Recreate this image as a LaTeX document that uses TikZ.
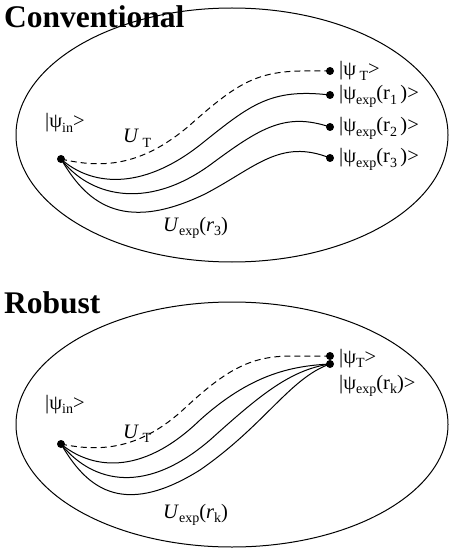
\documentclass[tikz,border=0pt]{standalone}
\usepackage{fontspec}
\setmainfont{Liberation Serif}
\newcommand\lsb[1]{\raisebox{-0.45ex}{\fontsize{14}{14}\selectfont #1}}
\begin{document}
\begin{tikzpicture}[x=1pt,y=-1pt,
  lbl/.style={anchor=base west,inner sep=0pt,font=\fontsize{20.5}{20.5}\selectfont},
  ttl/.style={anchor=base west,inner sep=0pt,font=\fontsize{31.5}{31.5}\selectfont\bfseries},
  pt/.style={circle,fill=black,inner sep=0pt,minimum size=8pt},
  curve/.style={line width=1pt},
  dcurve/.style={line width=1pt,dash pattern=on 6pt off 4pt}]
\useasboundingbox (0,0) rectangle (453,556);
% ---------- Conventional ----------
\node[ttl] (t1) at (4,28) {Conventional};
\draw[line width=1pt] (232,135) ellipse [x radius=216, y radius=127];
\node[pt] (a) at (61,159) {};
\node[pt] (bT) at (330,71) {};
\node[pt] (b1) at (330,95) {};
\node[pt] (b2) at (330,127) {};
\node[pt] (b3) at (330,158) {};
\draw[dcurve] (a.center) .. controls (100,168) and (140,168) .. (190,125)
  .. controls (235,85) and (255,72) .. (300,71) -- (bT.center);
\draw[curve] (a.center) .. controls (90,185) and (140,192) .. (200,145)
  .. controls (250,105) and (270,88) .. (b1.center);
\draw[curve] (a.center) .. controls (88,195) and (145,212) .. (210,165)
  .. controls (260,128) and (285,112) .. (b2.center);
\draw[curve] (a.center) .. controls (85,200) and (120,235) .. (205,194)
  .. controls (255,168) and (280,138) .. (b3.center);
\node[lbl] (lin1) at (45,128) {|ψ\lsb{in}>};
\node[lbl] (lT1) at (339,76) {|ψ\,\lsb{T}>};
\node[lbl] (l11) at (339,100) {|ψ\lsb{exp}(r\lsb{1}\,)>};
\node[lbl] (l21) at (339,132) {|ψ\lsb{exp}(r\lsb{2}\,)>};
\node[lbl] (l31) at (339,163) {|ψ\lsb{exp}(r\lsb{3}\,)>};
\node[lbl] (uT1) at (123,143) {\textit{U}\,\lsb{T}};
\node[lbl] (ue1) at (163,231) {\textit{U}\lsb{exp}(\textit{r}\lsb{3})};
% ---------- Robust ----------
\node[ttl] (t2) at (4,313) {Robust};
\draw[line width=1pt] (232,424.5) ellipse [x radius=216, y radius=122.5];
\node[pt] (c) at (61,444) {};
\node[pt] (dT) at (330,356) {};
\node[pt] (dk) at (330,364) {};
\draw[dcurve] (c.center) .. controls (100,452) and (140,450) .. (185,408)
  .. controls (228,368) and (252,356) .. (292,356) -- (dT.center);
\draw[curve] (c.center) .. controls (90,468) and (140,478) .. (200,420)
  .. controls (250,375) and (290,366) .. (dk.center);
\draw[curve] (c.center) .. controls (88,478) and (140,500) .. (210,440)
  .. controls (260,395) and (290,370) .. (dk.center);
\draw[curve] (c.center) .. controls (85,485) and (120,520) .. (200,470)
  .. controls (265,425) and (290,378) .. (dk.center);
\node[lbl] (lin2) at (45,409) {|ψ\lsb{in}>};
\node[lbl] (lT2) at (339,363) {|ψ\lsb{T}>};
\node[lbl] (lk2) at (339,389) {|ψ\lsb{exp}(r\lsb{k})>};
\node[lbl] (uT2) at (123,438) {\textit{U}\,\lsb{T}};
\node[lbl] (ue2) at (163,518) {\textit{U}\lsb{exp}(\textit{r}\lsb{k})};
\end{tikzpicture}
\end{document}
